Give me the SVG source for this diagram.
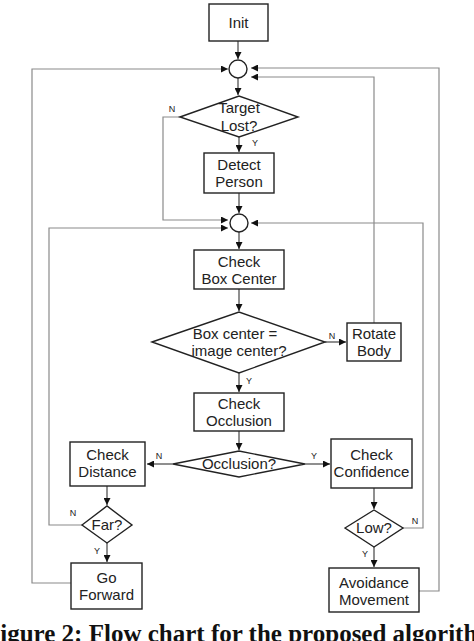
<svg xmlns="http://www.w3.org/2000/svg" width="474" height="641" viewBox="0 0 474 641">
<style>
.box{fill:#fff;stroke:#222;stroke-width:1.4}
.dia{fill:#fff;stroke:#222;stroke-width:1.4}
.t{font-family:"Liberation Sans",Arial,sans-serif;font-size:15px;fill:#222;text-anchor:middle}
.s{font-family:"Liberation Sans",Arial,sans-serif;font-size:9px;fill:#222;text-anchor:middle}
.a{fill:none;stroke:#333;stroke-width:1.1}
.g{fill:none;stroke:#8a8a8a;stroke-width:1.2}
.cap{font-family:"Liberation Serif","Times New Roman",serif;font-size:25px;font-weight:bold;fill:#111}
</style>
<defs>
<marker id="ah" viewBox="0 0 10 10" refX="10" refY="5" markerWidth="7" markerHeight="7" markerUnits="userSpaceOnUse" orient="auto">
<path d="M0,0 L10,5 L0,10 z" fill="#111"/>
</marker>
</defs>
<rect width="474" height="641" fill="#fff"/>
<g id="connectors">
<path class="a" d="M238,41 V59" marker-end="url(#ah)"/>
<path class="a" d="M238,78 V95" marker-end="url(#ah)"/>
<path class="a" d="M239,137 V152" marker-end="url(#ah)"/>
<path class="a" d="M239,193 V213" marker-end="url(#ah)"/>
<path class="a" d="M239,232 V249" marker-end="url(#ah)"/>
<path class="a" d="M239,289 V311" marker-end="url(#ah)"/>
<path class="a" d="M325,342 H346" marker-end="url(#ah)"/>
<path class="a" d="M239,373 V392" marker-end="url(#ah)"/>
<path class="a" d="M239,431 V450" marker-end="url(#ah)"/>
<path class="a" d="M173,464 H147" marker-end="url(#ah)"/>
<path class="a" d="M305,464 H330" marker-end="url(#ah)"/>
<path class="a" d="M107,486 V505" marker-end="url(#ah)"/>
<path class="a" d="M107,543 V562" marker-end="url(#ah)"/>
<path class="a" d="M374,488 V509" marker-end="url(#ah)"/>
<path class="a" d="M374,547 V567" marker-end="url(#ah)"/>
<path class="g" d="M71,583 H32 V69 H228" marker-end="url(#ah)"/>
<path class="g" d="M419,591 H439 V68 H251" marker-end="url(#ah)"/>
<path class="g" d="M374,323 V77 H251" marker-end="url(#ah)"/>
<path class="g" d="M180,117 H163 V220 H228" marker-end="url(#ah)"/>
<path class="g" d="M82,525 H49 V228 H228" marker-end="url(#ah)"/>
<path class="g" d="M403,528 H423 V223 H251" marker-end="url(#ah)"/>
<text class="s" x="172" y="112">N</text>
<text class="s" x="255" y="146">Y</text>
<text class="s" x="332" y="339">N</text>
<text class="s" x="249" y="384">Y</text>
<text class="s" x="159" y="459">N</text>
<text class="s" x="314" y="459">Y</text>
<text class="s" x="73" y="516">N</text>
<text class="s" x="97" y="554">Y</text>
<text class="s" x="415" y="524">N</text>
<text class="s" x="365" y="557">Y</text>
</g>
<g id="init"><rect class="box" x="209" y="4" width="59" height="37"/><text class="t" x="238.5" y="28">Init</text></g>
<g id="merge1"><circle class="box" cx="238" cy="69" r="9"/></g>
<g id="target-lost"><polygon class="dia" points="180,117 239,96 298,117 239,137"/><text class="t" x="239" y="113">Target</text><text class="t" x="239" y="131">Lost?</text></g>
<g id="detect-person"><rect class="box" x="204" y="153" width="70" height="40"/><text class="t" x="239" y="170">Detect</text><text class="t" x="239" y="187">Person</text></g>
<g id="merge2"><circle class="box" cx="239" cy="223" r="9"/></g>
<g id="check-box-center"><rect class="box" x="194" y="250" width="90" height="39"/><text class="t" x="239" y="267">Check</text><text class="t" x="239" y="284">Box Center</text></g>
<g id="box-center-q"><polygon class="dia" points="152,342 239,312 325,342 239,373"/><text class="t" x="235" y="339">Box center =</text><text class="t" x="239" y="356">image center?</text></g>
<g id="rotate-body"><rect class="box" x="347" y="323" width="54" height="38"/><text class="t" x="374" y="339">Rotate</text><text class="t" x="374" y="356">Body</text></g>
<g id="check-occlusion"><rect class="box" x="194" y="393" width="90" height="38"/><text class="t" x="239" y="409">Check</text><text class="t" x="239" y="426">Occlusion</text></g>
<g id="occlusion-q"><polygon class="dia" points="173,464 239,451 305,464 239,477"/><text class="t" x="239" y="469">Occlusion?</text></g>
<g id="check-distance"><rect class="box" x="70" y="442" width="75" height="44"/><text class="t" x="107.5" y="460">Check</text><text class="t" x="107.5" y="477">Distance</text></g>
<g id="check-confidence"><rect class="box" x="331" y="439" width="81" height="49"/><text class="t" x="371.5" y="460">Check</text><text class="t" x="371.5" y="477">Confidence</text></g>
<g id="far-q"><polygon class="dia" points="82,525 107,506 132,525 107,543"/><text class="t" x="107" y="530">Far?</text></g>
<g id="low-q"><polygon class="dia" points="345,528 374,510 403,528 374,547"/><text class="t" x="374" y="533">Low?</text></g>
<g id="go-forward"><rect class="box" x="71" y="563" width="71" height="46"/><text class="t" x="106.5" y="583">Go</text><text class="t" x="106.5" y="600">Forward</text></g>
<g id="avoidance"><rect class="box" x="329" y="568" width="90" height="44"/><text class="t" x="374" y="588">Avoidance</text><text class="t" x="374" y="605">Movement</text></g>
<text class="cap" x="-15" y="642">Figure 2: Flow chart for the proposed algorithm</text>
</svg>
